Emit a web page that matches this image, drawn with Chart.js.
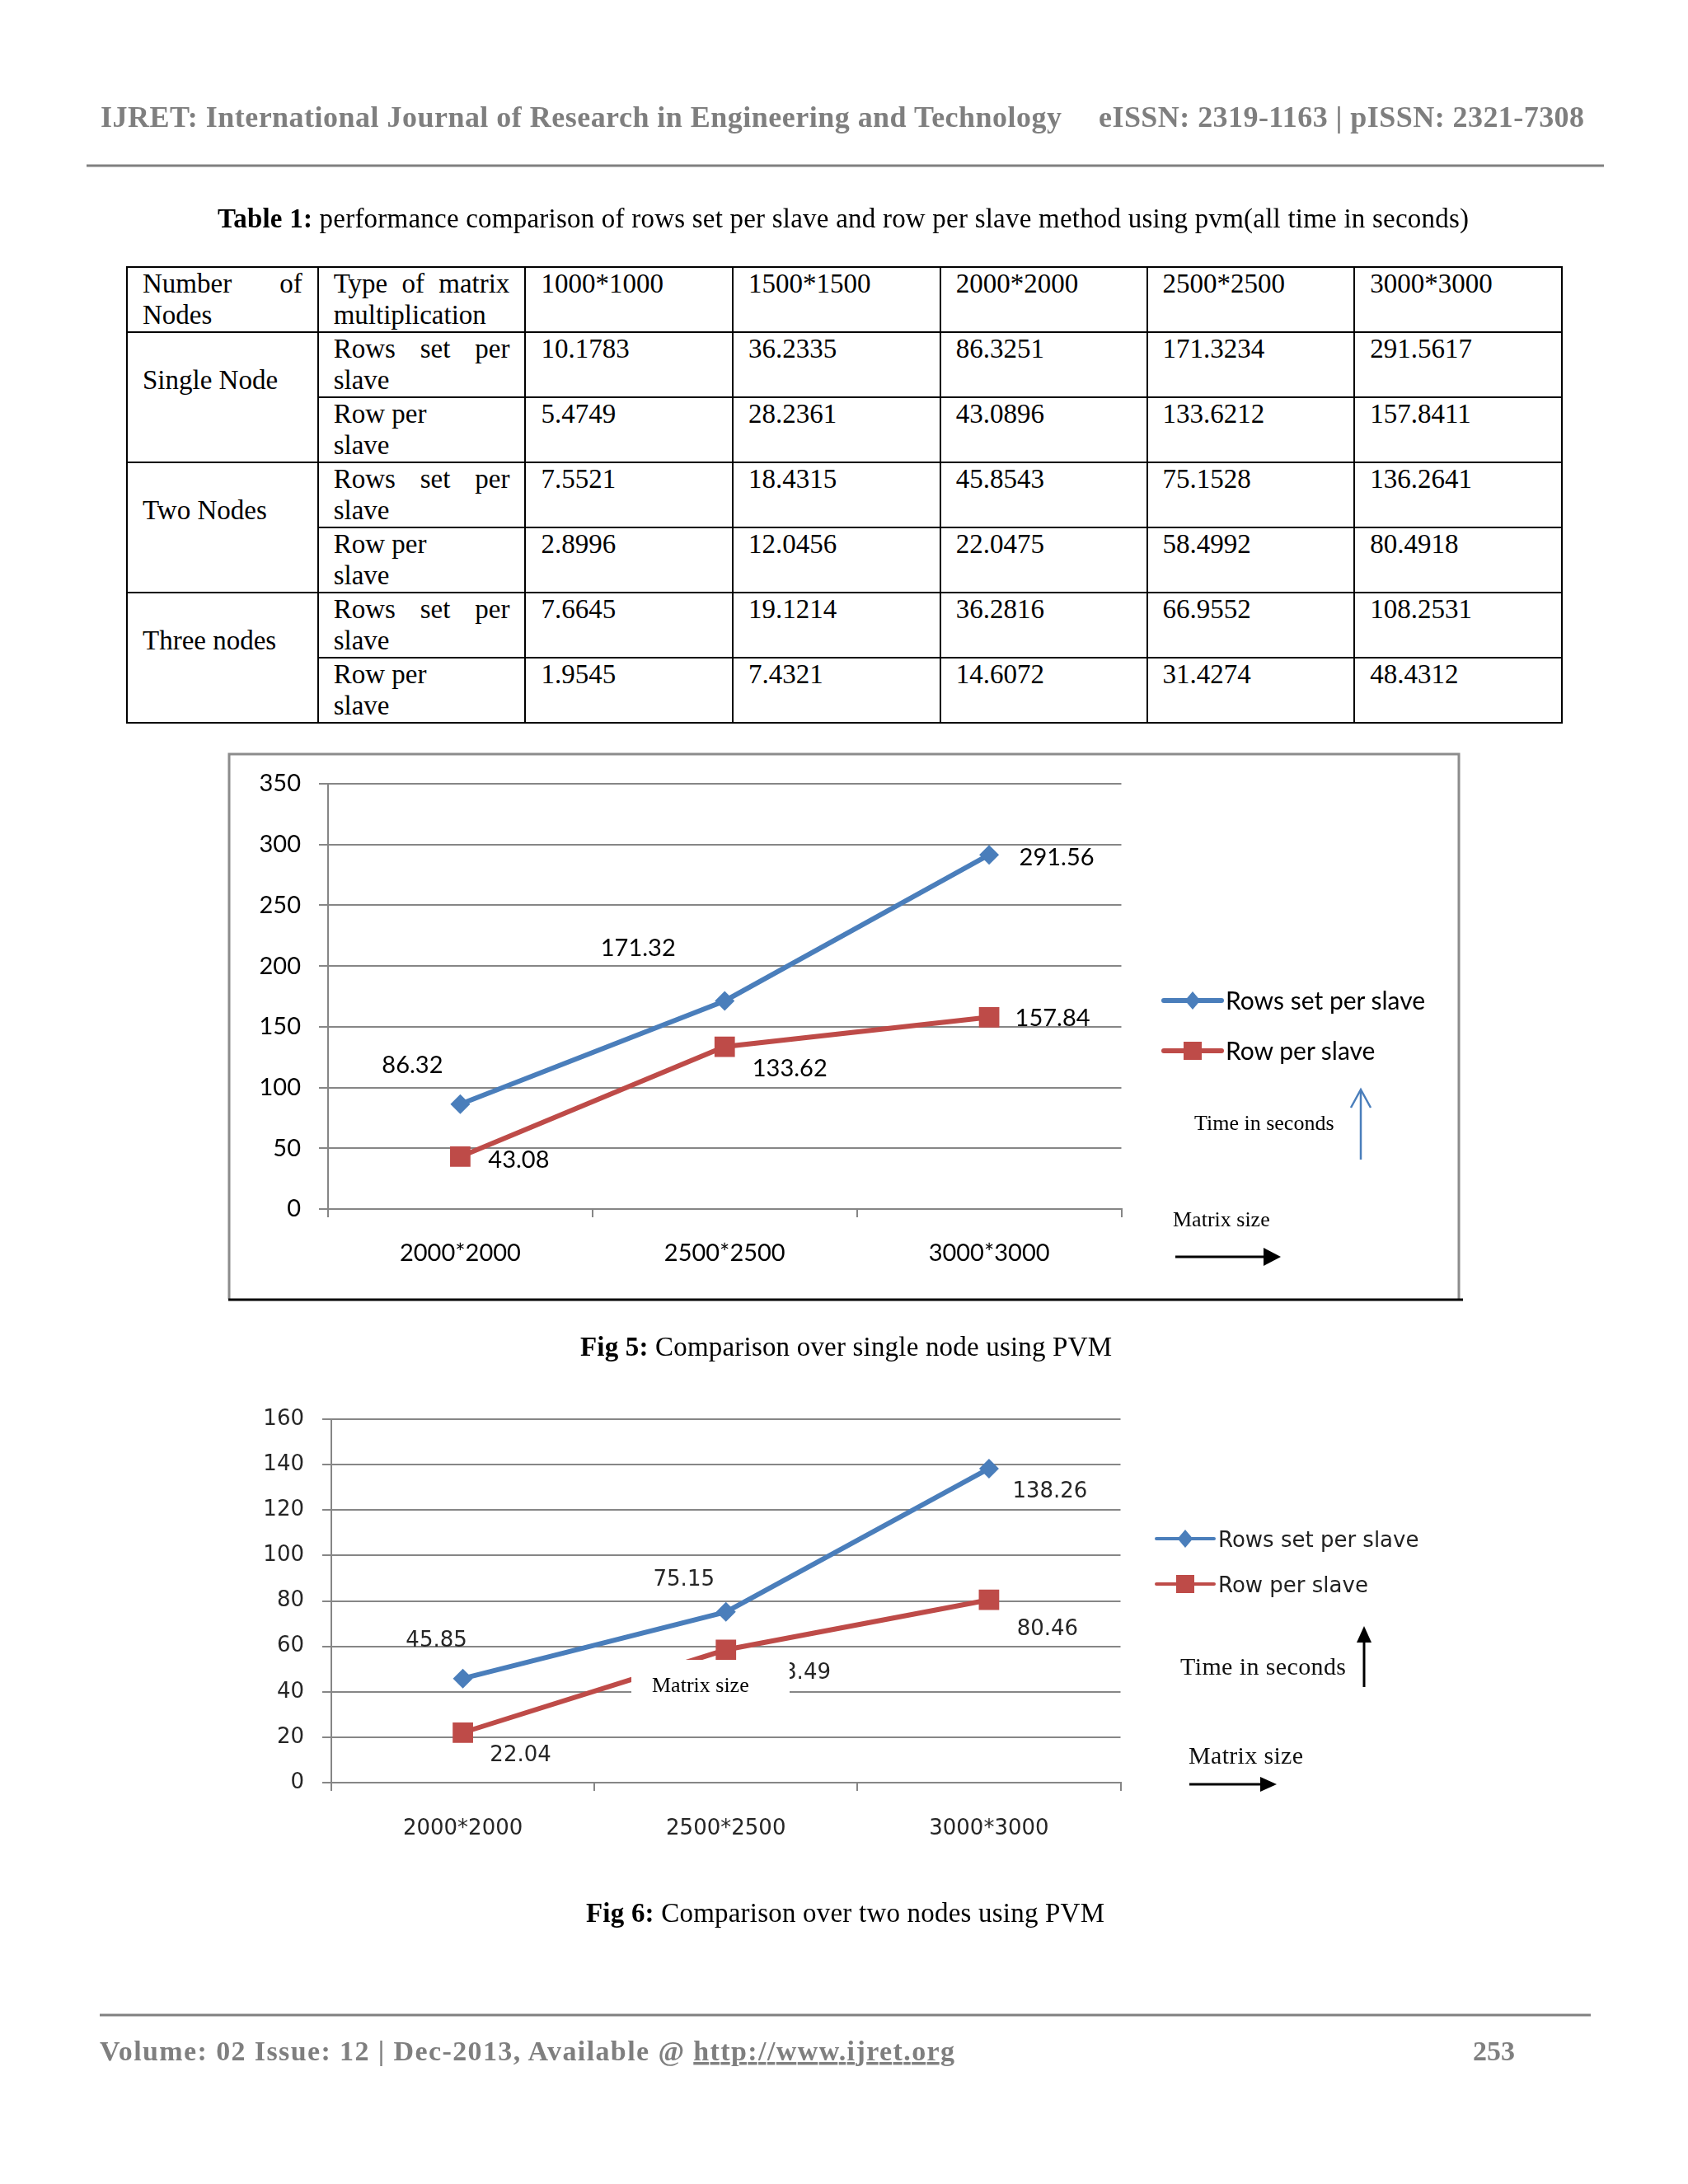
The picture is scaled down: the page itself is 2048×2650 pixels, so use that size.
<!DOCTYPE html>
<html>
<head>
<meta charset="utf-8">
<title>IJRET - PVM matrix multiplication</title>
<script src="https://cdn.jsdelivr.net/npm/chart.js@4.4.1/dist/chart.umd.min.js"></script>
<style>
  html, body { margin: 0; padding: 0; background: #fff; }
  body { width: 2048px; height: 2650px; position: relative; overflow: hidden;
         font-family: "Liberation Serif", "Times New Roman", serif; }
  #perfTable { position: absolute; left: 153px; top: 323px; width: 1743px;
               border-collapse: collapse; table-layout: fixed;
               font-size: 33px; line-height: 38px; color: #000; }
  #perfTable td { border: 2px solid #000; padding: 0 18px 0 18px; vertical-align: top; }
  #perfTable tr { height: 79px; }
  #perfTable td.just { text-align: justify; }
  #perfTable td.group { padding-top: 38px; }
  canvas { position: absolute; }
  #fig5 { left: 288px; top: 906px; }
  #fig6 { left: 292px; top: 1677px; }
  #overlay { position: absolute; left: 0; top: 0; pointer-events: none; }
</style>
</head>
<body>

<table id="perfTable">
  <colgroup>
    <col style="width:231px"><col style="width:251px"><col style="width:251px">
    <col style="width:251px"><col style="width:250px"><col style="width:251px"><col style="width:251px">
  </colgroup>
  <tbody id="perfBody"></tbody>
</table>

<canvas id="fig5" width="1090" height="655"></canvas>
<canvas id="fig6" width="1085" height="615"></canvas>

<svg id="overlay" width="2048" height="2650" xmlns="http://www.w3.org/2000/svg">
  <!-- page header -->
  <g font-family="Liberation Serif" font-weight="bold" font-size="36" fill="#7f7f7f">
    <text x="122" y="154" textLength="1166">IJRET: International Journal of Research in Engineering and Technology</text>
    <text x="1333" y="154" textLength="589">eISSN: 2319-1163 | pISSN: 2321-7308</text>
  </g>
  <line x1="105" y1="201" x2="1946" y2="201" stroke="#808080" stroke-width="3"/>

  <g font-family="Liberation Serif" font-size="33" fill="#000">
    <text x="264" y="276" textLength="1518"><tspan font-weight="bold">Table 1:</tspan> performance comparison of rows set per slave and row per slave method using pvm(all time in seconds)</text>
    <text x="704" y="1645" textLength="645"><tspan font-weight="bold">Fig 5:</tspan> Comparison over single node using PVM</text>
    <text x="711" y="2332" textLength="629"><tspan font-weight="bold">Fig 6:</tspan> Comparison over two nodes using PVM</text>
  </g>

  <!-- frame round fig 5 -->
  <g fill="none">
    <polyline points="278,1576 278,915 1770,915 1770,1576" stroke="#8c8c8c" stroke-width="3"/>
    <line x1="277" y1="1577" x2="1775" y2="1577" stroke="#000" stroke-width="3"/>
  </g>

  <!-- fig 5 legend and notes -->
  <g id="legend5"></g>
  <g font-family="Liberation Serif" font-size="26" fill="#000">
    <text x="1449" y="1371">Time in seconds</text>
    <text x="1423" y="1488">Matrix size</text>
  </g>
  <g stroke="#4a7ebb" stroke-width="2.5" fill="none">
    <line x1="1651" y1="1407" x2="1651" y2="1323"/>
    <polyline points="1639,1344 1651,1322 1663,1344"/>
  </g>
  <line x1="1426" y1="1525" x2="1536" y2="1525" stroke="#000" stroke-width="3"/>
  <polygon points="1533,1514 1554,1525 1533,1536" fill="#000"/>

  <!-- fig 6 stray text box -->
  <rect x="766" y="2014" width="192" height="91" fill="#fff"/>
  <text x="791" y="2053" font-family="Liberation Serif" font-size="26" fill="#000">Matrix size</text>

  <!-- fig 6 legend and notes -->
  <g id="legend6"></g>
  <g font-family="Liberation Serif" font-size="30" fill="#111">
    <text x="1432" y="2032" textLength="201">Time in seconds</text>
    <text x="1442" y="2140" textLength="139">Matrix size</text>
  </g>
  <line x1="1655" y1="2047" x2="1655" y2="1990" stroke="#000" stroke-width="3"/>
  <polygon points="1646,1993 1655,1973 1664,1993" fill="#000"/>
  <line x1="1443" y1="2165" x2="1532" y2="2165" stroke="#000" stroke-width="3"/>
  <polygon points="1529,2156 1549,2165 1529,2174" fill="#000"/>

  <!-- page footer -->
  <line x1="121" y1="2445" x2="1930" y2="2445" stroke="#808080" stroke-width="3"/>
  <g font-family="Liberation Serif" font-weight="bold" font-size="34" fill="#7f7f7f">
    <text x="121" y="2500" textLength="1037">Volume: 02 Issue: 12 | Dec-2013, Available @ <tspan text-decoration="underline">http://www.ijret.org</tspan></text>
    <text x="1787" y="2500">253</text>
  </g>
</svg>

<script>
// table values (all time in seconds)
const matrixSizes = ['1000*1000', '1500*1500', '2000*2000', '2500*2500', '3000*3000'];
const nodeGroups = ['Single Node', 'Two Nodes', 'Three nodes'];
const singleRowsSetAll = ['10.1783', '36.2335', '86.3251', '171.3234', '291.5617'];
const singleRowPerAll = ['5.4749', '28.2361', '43.0896', '133.6212', '157.8411'];
const twoRowsSetAll = ['7.5521', '18.4315', '45.8543', '75.1528', '136.2641'];
const twoRowPerAll = ['2.8996', '12.0456', '22.0475', '58.4992', '80.4918'];
const threeRowsSetAll = ['7.6645', '19.1214', '36.2816', '66.9552', '108.2531'];
const threeRowPerAll = ['1.9545', '7.4321', '14.6072', '31.4274', '48.4312'];

// chart values
const chartSizes = ['2000*2000', '2500*2500', '3000*3000'];
const seriesNames = ['Rows set per slave', 'Row per slave'];
const fig5RowsSet = [86.32, 171.32, 291.56];
const fig5RowPer = [43.08, 133.62, 157.84];
const fig6RowsSet = [45.85, 75.15, 138.26];
const fig6RowPer = [22.04, 58.49, 80.46];

const BLUE = '#4a7ebb';
const RED = '#be4b48';
const GRID = '#868686';

// where each value label sits, relative to its point (px)
const fig5LabelShift = [
    [[-58, -47], [-105, -64], [82, 3]],
    [[71, 4], [79, 27], [77, 1]]
];
const fig6LabelShift = [
    [[-32, -45], [-51, -39], [74, 28]],
    [[70, 28], [90, 28], [71, 36]]
];

function buildTable() {
    const body = document.getElementById('perfBody');
    const head = document.createElement('tr');
    head.innerHTML = '<td class="just">Number of Nodes</td><td class="just">Type of matrix multiplication</td>' +
        matrixSizes.map(s => `<td>${s}</td>`).join('');
    body.appendChild(head);

    const groups = [
        [singleRowsSetAll, singleRowPerAll],
        [twoRowsSetAll, twoRowPerAll],
        [threeRowsSetAll, threeRowPerAll]
    ];
    groups.forEach((pair, g) => {
        pair.forEach((vals, k) => {
            const tr = document.createElement('tr');
            let html = '';
            if (k === 0) html += `<td rowspan="2" class="group">${nodeGroups[g]}</td>`;
            html += k === 0 ? '<td class="just">Rows set per slave</td>' : '<td>Row per<br>slave</td>';
            html += vals.map(v => `<td>${v}</td>`).join('');
            tr.innerHTML = html;
            body.appendChild(tr);
        });
    });
}

function valueLabels(shifts, font, color) {
    return {
        id: 'valueLabels',
        afterDatasetsDraw(chart) {
            const ctx = chart.ctx;
            ctx.save();
            ctx.font = font;
            ctx.fillStyle = color;
            ctx.textAlign = 'center';
            ctx.textBaseline = 'middle';
            chart.data.datasets.forEach((ds, i) => {
                chart.getDatasetMeta(i).data.forEach((pt, j) => {
                    const s = shifts[i][j];
                    ctx.fillText(ds.data[j].toFixed(2), pt.x + s[0], pt.y + s[1]);
                });
            });
            ctx.restore();
        }
    };
}

function buildChart(id, rowsSet, rowPer, cfg) {
    const ctx = document.getElementById(id).getContext('2d');
    return new Chart(ctx, {
        type: 'line',
        data: {
            labels: chartSizes,
            datasets: [
                {
                    label: seriesNames[0],
                    data: rowsSet,
                    borderColor: BLUE,
                    backgroundColor: BLUE,
                    borderWidth: 6,
                    tension: 0,
                    pointStyle: 'rectRot',
                    pointRadius: 12,
                    pointBorderWidth: 0
                },
                {
                    label: seriesNames[1],
                    data: rowPer,
                    borderColor: RED,
                    backgroundColor: RED,
                    borderWidth: 6,
                    tension: 0,
                    pointStyle: 'rect',
                    pointRadius: 17.5,
                    pointBorderWidth: 0
                }
            ]
        },
        options: {
            responsive: false,
            animation: false,
            devicePixelRatio: 1,
            // top padding has to beat the y-axis label padding (~39px)
            layout: { padding: { top: 45, left: 0, right: 16, bottom: 0 } },
            plugins: {
                legend: { display: false },
                tooltip: { enabled: false }
            },
            scales: {
                x: {
                    offset: true,
                    grid: { offset: true, drawOnChartArea: false, drawTicks: true, tickLength: 10, color: GRID, lineWidth: 2 },
                    border: { display: true, color: GRID, width: 2 },
                    ticks: { color: cfg.color, font: cfg.font, padding: cfg.xPad, maxRotation: 0 },
                    afterFit: scale => { scale.height = cfg.xHeight; }
                },
                y: {
                    min: 0,
                    max: cfg.max,
                    grid: { color: GRID, lineWidth: 2, tickLength: 11 },
                    border: { display: true, color: GRID, width: 2 },
                    ticks: { stepSize: cfg.step, color: cfg.color, font: cfg.font, padding: 22 },
                    afterFit: scale => { scale.width = 110; }
                }
            }
        },
        plugins: [valueLabels(cfg.labelShift, `${cfg.font.size}px "${cfg.font.family}"`, cfg.color)]
    });
}

function buildLegend(groupId, x0, rowsY, cfg) {
    const ns = 'http://www.w3.org/2000/svg';
    const g = document.getElementById(groupId);
    const colours = [BLUE, RED];
    seriesNames.forEach((name, i) => {
        const y = rowsY[i];
        const line = document.createElementNS(ns, 'line');
        line.setAttribute('x1', x0); line.setAttribute('x2', x0 + 70);
        line.setAttribute('y1', y); line.setAttribute('y2', y);
        line.setAttribute('stroke', colours[i]);
        line.setAttribute('stroke-width', cfg.lineWidth);
        line.setAttribute('stroke-linecap', 'round');
        g.appendChild(line);
        const cx = x0 + 35;
        const mark = document.createElementNS(ns, 'polygon');
        const h = cfg.mark;
        const pts = i === 0
            ? [[cx, y - h], [cx + h * 0.85, y], [cx, y + h], [cx - h * 0.85, y]]
            : [[cx - h, y - h], [cx + h, y - h], [cx + h, y + h], [cx - h, y + h]];
        mark.setAttribute('points', pts.map(p => p.join(',')).join(' '));
        mark.setAttribute('fill', colours[i]);
        g.appendChild(mark);
        const t = document.createElementNS(ns, 'text');
        t.setAttribute('x', x0 + 75);
        t.setAttribute('y', y + cfg.baseShift);
        t.setAttribute('font-family', cfg.family);
        t.setAttribute('font-size', cfg.size);
        t.setAttribute('fill', cfg.color);
        t.textContent = name;
        g.appendChild(t);
    });
}

document.addEventListener('DOMContentLoaded', function() {
    buildTable();

    buildChart('fig5', fig5RowsSet, fig5RowPer, {
        max: 350, step: 50,
        font: { family: 'Lato', size: 29 },
        color: '#000',
        xPad: 26, xHeight: 94,
        labelShift: fig5LabelShift
    });

    buildChart('fig6', fig6RowsSet, fig6RowPer, {
        max: 160, step: 20,
        font: { family: 'DejaVu Sans', size: 26 },
        color: '#262626',
        xPad: 31, xHeight: 129,
        labelShift: fig6LabelShift
    });

    buildLegend('legend5', 1412, [1214, 1275], { lineWidth: 6, mark: 11, family: 'Lato', size: 30, color: '#000', baseShift: 11 });
    buildLegend('legend6', 1403, [1867, 1922], { lineWidth: 4, mark: 11, family: 'DejaVu Sans', size: 26, color: '#222', baseShift: 10 });
});
</script>
</body>
</html>
